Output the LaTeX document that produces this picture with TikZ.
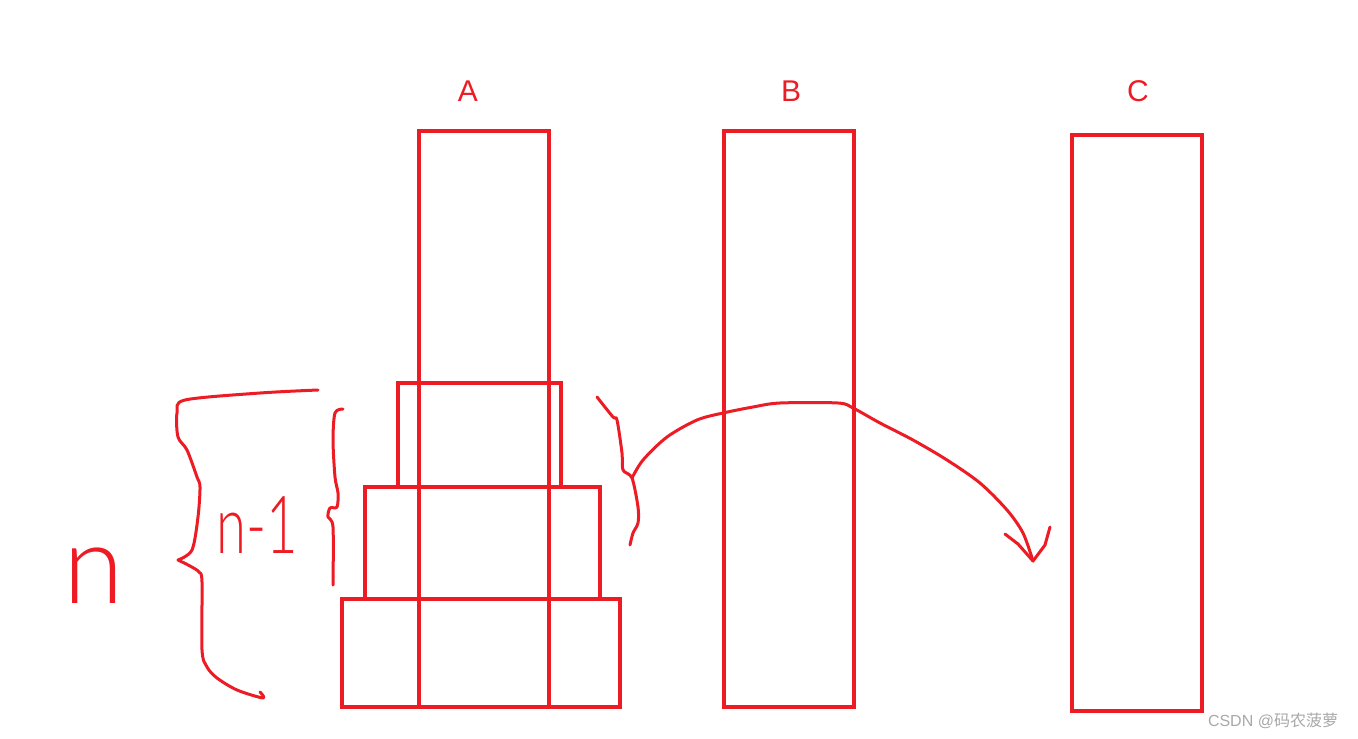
\documentclass[tikz,border=0pt]{standalone}
\usepackage{fontspec}
\setmainfont{Liberation Sans}
\newfontfamily\handfont{Lato Light}
\newfontfamily\cjkfont{Noto Sans CJK SC}
\usetikzlibrary{calc}
\definecolor{pred}{HTML}{ED1C24}
\definecolor{wm}{HTML}{A8A8A8}
\tikzset{
  box/.style={draw=pred, line width=4pt, inner sep=0pt, outer sep=0pt},
  pole/.style={box, minimum width=130pt, minimum height=576pt},
  lbl/.style={text=pred, font=\fontsize{30}{30}\selectfont, inner sep=0pt},
  hand/.style={draw=pred, line width=3pt, line cap=round, line join=round},
  handtxt/.style={text=pred, inner sep=0pt},
}
\begin{document}
\begin{tikzpicture}[x=1pt, y=-1pt]
\useasboundingbox (0,0) rectangle (1358,739);
% poles
\node[pole] (A) at (484,419) {};
\node[pole] (B) at (789,419) {};
\node[pole] (C) at (1137,423) {};
% disks
\node[box, minimum width=163pt, minimum height=104pt] (d1) at (479.5,435) {};
\node[box, minimum width=235pt, minimum height=112pt] (d2) at (482.5,543) {};
\node[box, minimum width=278pt, minimum height=108pt] (d3) at (481,653) {};
% labels
\node[lbl] (la) at (468,91) {A};
\node[lbl] (lb) at (791,91) {B};
\node[lbl] (lc) at (1138,91) {C};
% big brace (n)
\draw[hand] plot[smooth, tension=0.5] coordinates {(318,390) (260,393) (185,400) (177,413) (178,437) (187,450) (197,477) (200,487) (198,517) (192,550) (178,560)};
\draw[hand] plot[smooth, tension=0.5] coordinates {(178,560) (190,566) (199,572) (202,582) (202,650) (207,667) (217,678) (237,690) (263,698) (260,692)};
% small brace (n-1)
\draw[hand] plot[smooth, tension=0.5] coordinates {(343,409) (335,413) (333,440) (335,477) (338,493) (337,507) (330,508) (328,517) (333,527) (333,585)};
% right brace
\coordinate (src) at (632,478);
\draw[hand] plot[smooth, tension=0.5] coordinates {(597,397) (613,417) (617,420) (622,453) (623,470) (src) (638,507) (638,523) (633,533) (630,545)};
% arrow curve to C
\coordinate (tip) at (1033,561);
\draw[hand] plot[smooth, tension=0.5] coordinates {(src) (643,460) (667,437) (697,420) (723,413) (753,407) (780,403) (838,403) (853,408) (880,423) (913,440) (947,460) (980,483) (1007,510) (1023,533) (tip)};
\draw[hand] (1005,534) -- (1018,544) -- (tip) -- (1045,545) -- (1050,527);
% handwritten texts
\node[handtxt, font=\handfont\fontsize{110}{110}\selectfont, anchor=base] (n) at (94,603) {n};
\node[handtxt, font=\handfont\fontsize{80}{80}\selectfont, anchor=base] (n1) at (257,553) {\scalebox{0.68}[1]{n-1}};
% watermark
\node[text=wm, font=\fontsize{16}{16}\selectfont, inner sep=0pt] (wmk) at (1273,721) {CSDN @{\cjkfont 码农菠萝}};
\end{tikzpicture}
\end{document}
